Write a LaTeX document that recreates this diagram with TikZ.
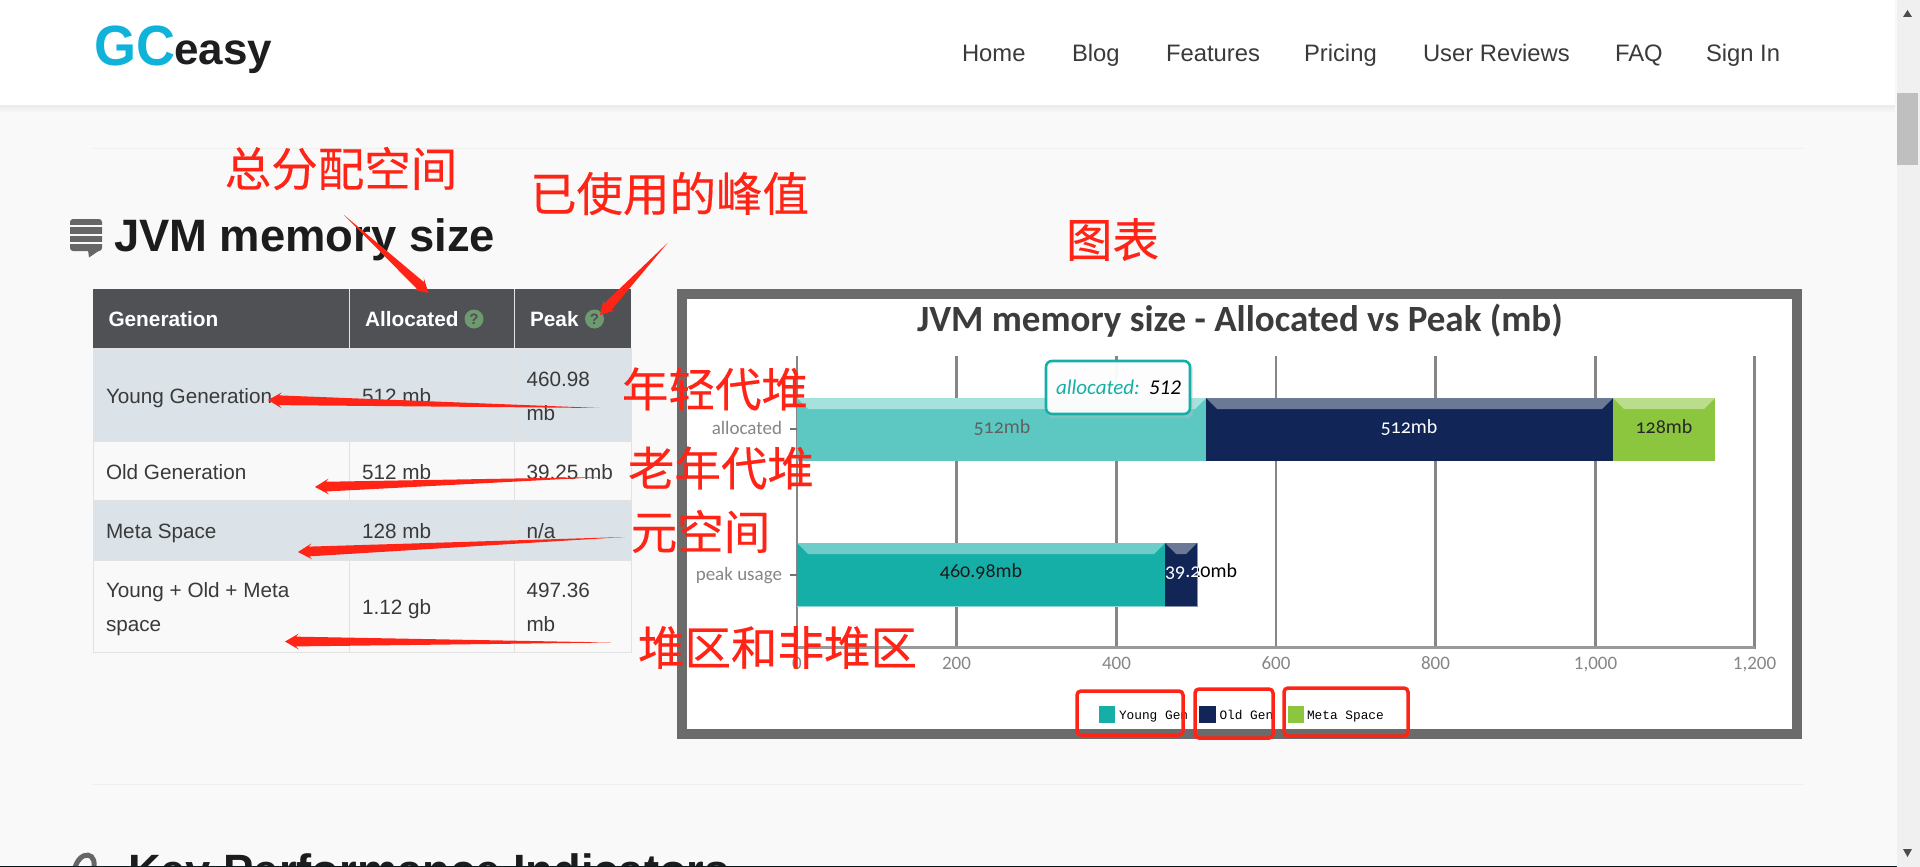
\documentclass[tikz,border=0pt]{standalone}
\usepackage{fontspec}
\usetikzlibrary{calc}
\setmainfont{Liberation Sans}
\newfontfamily\cjk[FakeBold=0.35]{Noto Sans CJK SC}
\newfontfamily\chartf[Numbers=OldStyle]{Carlito}
\newfontfamily\chartl[Numbers=Lining]{Carlito}
\newfontfamily\monof{Liberation Mono}
\definecolor{pagebg}{HTML}{F9F9F9}
\definecolor{annot}{HTML}{FF2416}
\definecolor{rule}{HTML}{EEEEEE}
\definecolor{thead}{HTML}{4F5155}
\definecolor{tband}{HTML}{DBE3E8}
\definecolor{tline}{HTML}{E2E2E2}
\definecolor{ttext}{HTML}{3A3A3A}
\definecolor{frame}{HTML}{6B6B6B}
\definecolor{gridc}{HTML}{868686}
\definecolor{teal}{HTML}{16AFA8}
\definecolor{tealh}{HTML}{5CC8C1}
\definecolor{navy}{HTML}{112556}
\definecolor{leaf}{HTML}{8CC63E}
\definecolor{qmark}{HTML}{6D9A6E}
\newcommand{\fs}[1]{\fontsize{#1}{#1}\selectfont}
\newcommand{\tapered}[2]{\fill[annot] (#1) -- ($(#2)!12pt!24:(#1)$) -- ($(#2)!16pt!30:(#1)$) -- (#2) -- ($(#2)!16pt!-30:(#1)$) -- ($(#2)!12pt!-24:(#1)$) -- cycle;}
\newcommand{\barseg}[6]{%
  \fill[#5] (#1,#3) rectangle (#2,#4);
  \fill[#6] (#1,#3) -- (#2,#3) -- (#2-11,#3+11) -- (#1+11,#3+11) -- cycle;}
\tikzset{
  x=1pt,y=-1pt,
  every node/.style={inner sep=0pt,outer sep=0pt},
  nav/.style={anchor=base west,text=ttext,font=\fs{23.8}},
  thd/.style={anchor=base west,text=white,font=\fs{20.8}\bfseries},
  tcell/.style={anchor=base west,text=ttext,font=\fs{20.7}},
  cjknote/.style={text=annot,font=\cjk\fs{46.5}},
  arrowbox/.style={draw=annot,line width=3.5pt,rounded corners=4pt},
  qicon/.style={circle,fill=qmark,minimum size=19pt,text=thead,font=\fs{15}\bfseries},
  gridl/.style={draw=gridc,line width=2.4pt},
  xlab/.style={anchor=base,text=gridc,font=\chartl\fs{19}},
  ylab/.style={anchor=base east,text=gridc,font=\chartf\fs{19}},
  blab/.style={anchor=base,font=\chartf\fs{20}},
  lgd/.style={anchor=base west,text=black,font=\monof\fs{12.8}},
}
\begin{document}
\begin{tikzpicture}
\useasboundingbox (0,0) rectangle (1920,867);
\fill[pagebg] (0,0) rectangle (1920,867);
% nav bar
\shade[top color=black!8,bottom color=pagebg] (0,105) rectangle (1895,113);
\fill[white] (0,0) rectangle (1895,105);
\node[anchor=base west,text={rgb,255:red,15;green,178;blue,216},font=\fs{54}\bfseries,yscale=1.05] (logoa) at (94,65.5) {GC};
\node[anchor=base west,text={rgb,255:red,30;green,30;blue,32},font=\fs{44}\bfseries] (logob) at (174.5,65) {easy};
\node[nav] (n1) at (962,62) {Home};
\node[nav] (n2) at (1072,62) {Blog};
\node[nav] (n3) at (1166,62) {Features};
\node[nav] (n4) at (1304,62) {Pricing};
\node[nav] (n5) at (1423,62) {User Reviews};
\node[nav] (n6) at (1615,62) {FAQ};
\node[nav] (n7) at (1706,62) {Sign In};
% scrollbar
\fill[black!6] (1897,0) rectangle (1920,867);
\fill[black!25] (1897,93) rectangle (1918,165);
\fill[black!70] (1903,17) -- (1912,17) -- (1907.5,10) -- cycle;
\fill[black!70] (1903,849) -- (1912,849) -- (1907.5,857) -- cycle;
% rules
\draw[rule,line width=1pt] (93,148.5) -- (1803,148.5);
\draw[rule,line width=1pt] (93,784) -- (1803,784);
% heading
\fill[black!60,rounded corners=3pt] (70,219) rectangle (102,251);
\fill[black!60] (88,250) -- (100,250) -- (89,257.5) -- cycle;
\foreach \yy in {226,235,243} \draw[pagebg,line width=1.6pt] (69,\yy) -- (103,\yy);
\node[anchor=base west,text={rgb,255:red,28;green,28;blue,28},font=\fs{45.4}\bfseries] (title) at (114,251) {JVM memory size};
% table
\fill[thead] (93,289) rectangle (631,348);
\fill[tband] (93,348) rectangle (631,441.5);
\fill[tband] (93,500) rectangle (631,560);
\draw[tline,line width=1pt] (93,348) rectangle (631,652.5);
\foreach \yy in {441.5,500,560} \draw[tline,line width=1pt] (93,\yy) -- (631,\yy);
\foreach \xx in {349.5,514.5} {
  \draw[tline,line width=1pt] (\xx,348) -- (\xx,652.5);
  \draw[white!85!thead,line width=1pt] (\xx,289) -- (\xx,348);
}
\node[thd] (h1) at (108.5,326) {Generation};
\node[thd] (h2) at (365,326) {Allocated};
\node[thd] (h3) at (530,326) {Peak};
\node[qicon] (q1) at (474,319) {?};
\node[qicon] (q2) at (594.5,319) {?};
\node[tcell] (c11) at (106,403) {Young Generation};
\node[tcell] (c12) at (362,403) {512 mb};
\node[tcell] (c13) at (526.5,386) {460.98};
\node[tcell] (c13b) at (526.5,420) {mb};
\node[tcell] (c21) at (106,479) {Old Generation};
\node[tcell] (c22) at (362,479) {512 mb};
\node[tcell] (c23) at (526.5,479) {39.25 mb};
\node[tcell] (c31) at (106,538) {Meta Space};
\node[tcell] (c32) at (362,538) {128 mb};
\node[tcell] (c33) at (526.5,538) {n/a};
\node[tcell] (c41) at (106,597) {Young + Old + Meta};
\node[tcell] (c41b) at (106,631) {space};
\node[tcell] (c42) at (362,614.5) {1.12 gb};
\node[tcell] (c43) at (526.5,597) {497.36};
\node[tcell] (c43b) at (526.5,631) {mb};
% chart frame
\fill[frame] (677,289) rectangle (1802,739);
\fill[white] (687,299) rectangle (1792,729);
\node[anchor=base,text={rgb,255:red,60;green,60;blue,60},font=\chartf\fs{37}\bfseries] (ctitle) at (1240,331) {JVM memory size - Allocated vs Peak (mb)};
% grid
\foreach \xx in {797,956.5,1116.5,1276,1435.5,1595.5,1754.5}
  \draw[gridl] (\xx,356) -- (\xx,649);
\draw[draw=black!40,line width=3pt] (797,647) -- (1754.5,647);
\draw[draw=black!55,line width=2pt] (790,429) -- (797,429);
\draw[draw=black!55,line width=2pt] (790,575) -- (797,575);
\node[ylab] (ya) at (782,434) {allocated};
\node[ylab] (yp) at (782,580) {peak usage};
\node[xlab] (x0) at (797,669) {0};
\node[xlab] (x2) at (956.5,669) {200};
\node[xlab] (x4) at (1116.5,669) {400};
\node[xlab] (x6) at (1276,669) {600};
\node[xlab] (x8) at (1435.5,669) {800};
\node[xlab] (x10) at (1595.5,669) {1,000};
\node[xlab] (x12) at (1754.5,669) {1,200};
% bars
\barseg{797}{1206}{398}{461}{tealh}{tealh!55!white}
\barseg{1206}{1613}{398}{461}{navy}{navy!62!white}
\barseg{1613}{1715}{398}{461}{leaf}{leaf!60!white}
\node[blab,text=black!62] (l1) at (1002,433) {512mb};
\node[blab,text=white] (l2) at (1409,433) {512mb};
\node[blab,text=black!85] (l3) at (1664,433) {128mb};
\node[blab,anchor=base west,text=black] (l5) at (1165,577) {39.20mb};
\barseg{797}{1165}{543}{607}{teal}{teal!62!white}
\barseg{1165}{1197}{543}{607}{navy}{navy!62!white}
\draw[teal!50!white,line width=1pt] (797,606.5) -- (1165,606.5);
\draw[navy!50!white,line width=1pt] (1165,606.5) -- (1197,606.5) -- (1197,543);
\node[blab,text=black!90] (l4) at (981,577) {460.98mb};
\begin{scope}
  \clip (1165,543) rectangle (1197,607);
  \node[blab,anchor=base west,text=white] (l5w) at (1165,577) {39.20mb};
\end{scope}
% tooltip
\fill[black!25,opacity=.35,rounded corners=6pt] (1047,363) rectangle (1193,418);
\draw[teal,line width=2.6pt,fill=white,fill opacity=.94,rounded corners=6pt] (1046,361) rectangle (1190,414);
\node[anchor=base west,text=teal,font=\chartf\fs{21}\itshape] (tipa) at (1056,394) {allocated:};
\node[anchor=base west,text=black,font=\chartl\fs{21}\itshape] (tipb) at (1149,394) {512};
% legend
\fill[teal] (1099,706) rectangle (1115,723);
\fill[navy] (1199,706) rectangle (1215.5,723);
\fill[leaf] (1288,706) rectangle (1304,723);
\node[lgd] (g1) at (1119,719.5) {Young Gen};
\begin{scope}
  \clip (1195,690) rectangle (1272,738);
  \node[lgd] (g2) at (1219.5,719.5) {Old Gen};
\end{scope}
\node[lgd] (g3) at (1307,719.5) {Meta Space};
% next section heading (cut by the page edge)
\draw[black!60,line width=5pt] (74,880) .. controls (72,852) and (96,848) .. (94,866);
\node[anchor=base west,text={rgb,255:red,28;green,28;blue,28},font=\fs{45.3}\bfseries] (kpi) at (128,886) {Key Performance Indicators};
\fill[black!85!teal] (0,866) rectangle (1897,867);
% annotations
\node[cjknote] (a1) at (341,168.5) {总分配空间};
\node[cjknote] (a2) at (669.5,193.5) {已使用的峰值};
\node[cjknote] (a3) at (1112.5,239.5) {图表};
\node[cjknote] (a4) at (715,389) {年轻代堆};
\node[cjknote] (a5) at (721,468) {老年代堆};
\node[cjknote] (a6) at (700.5,531.5) {元空间};
\node[cjknote] (a7) at (777.5,647.5) {堆区和非堆区};
\coordinate (t1) at (344,215); \coordinate (p1) at (428.5,293);
\coordinate (t2) at (667.5,243); \coordinate (p2) at (600,315);
\coordinate (t3) at (600,408); \coordinate (p3) at (268,400);
\coordinate (t4) at (602.5,477); \coordinate (p4) at (315,487);
\coordinate (t5) at (625,537); \coordinate (p5) at (298,552);
\coordinate (t6) at (611,642.5); \coordinate (p6) at (285,641.5);
\tapered{t1}{p1}
\tapered{t2}{p2}
\tapered{t3}{p3}
\tapered{t4}{p4}
\tapered{t5}{p5}
\tapered{t6}{p6}
\draw[arrowbox] (1077,691) rectangle (1183,735);
\draw[arrowbox] (1195,689) rectangle (1273,738);
\draw[arrowbox] (1284,688) rectangle (1408,736);
\end{tikzpicture}
\end{document}
